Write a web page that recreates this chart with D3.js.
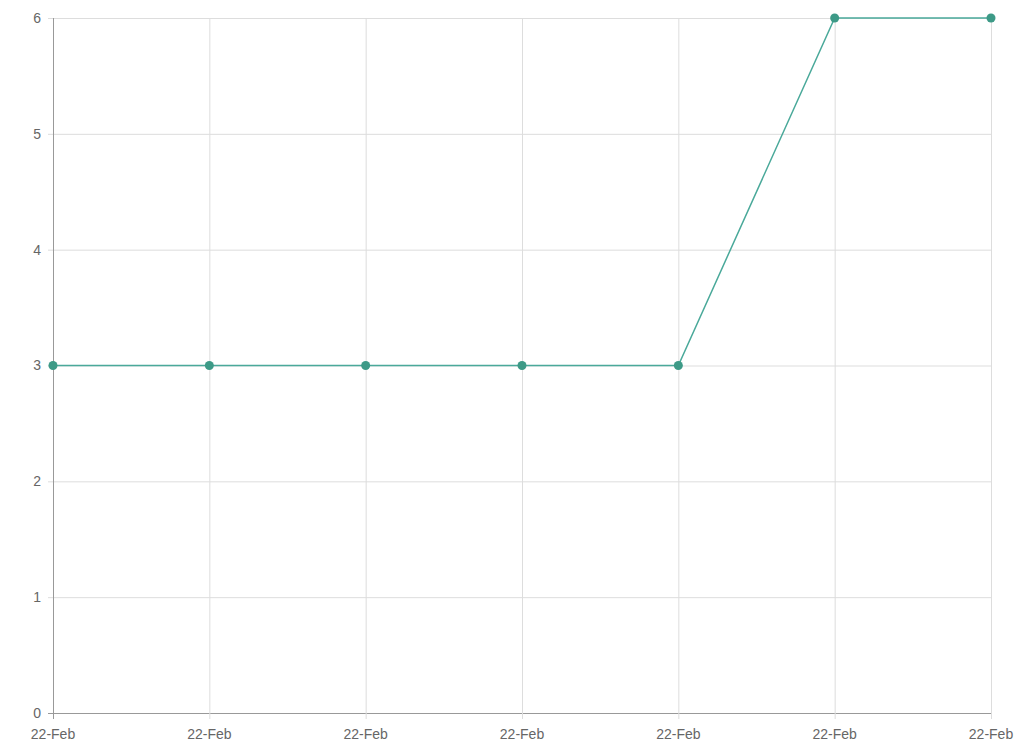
<!DOCTYPE html>
<html><head><meta charset="utf-8">
<script src="https://cdn.jsdelivr.net/npm/d3@7"></script>
<style>body{margin:0;background:#fff}svg{display:block}text{font-family:"Liberation Sans",Arial,sans-serif;font-size:14px;fill:#666}</style>
</head><body><svg id="c" width="1023" height="756"></svg>
<script>
const categories = ["22-Feb","22-Feb","22-Feb","22-Feb","22-Feb","22-Feb","22-Feb"];
const values = [3,3,3,3,3,6,6];
const yTicks = [0,1,2,3,4,5,6];

const svg = d3.select("#c");
const L=53,R=991,T=18,B=713;
const x = d3.scaleLinear().domain([0,categories.length-1]).range([L,R]);
const y = d3.scaleLinear().domain([0,6]).range([B,T]);

const g = svg.append("g");
// horizontal grid
g.selectAll(".hg").data(yTicks).join("line")
 .attr("x1",L-5).attr("x2",R).attr("y1",d=>y(d)+0.5).attr("y2",d=>y(d)+0.5)
 .attr("stroke",d=>d===0?"#999":"#ddd").attr("stroke-width",1);
// vertical grid
g.selectAll(".vg").data(categories.map((c,i)=>i)).join("line")
 .attr("x1",d=>x(d)+0.5).attr("x2",d=>x(d)+0.5).attr("y1",T).attr("y2",B+6)
 .attr("stroke",d=>d===0?"#999":"#ddd").attr("stroke-width",1);
// y labels
g.selectAll(".yl").data(yTicks).join("text")
 .attr("x",L-12).attr("y",d=>y(d)).attr("dy","0.35em").attr("text-anchor","end").text(d=>d);
// x labels
g.selectAll(".xl").data(categories).join("text")
 .attr("x",(d,i)=>x(i)).attr("y",B+26).attr("text-anchor","middle").text(d=>d);
// line
g.append("path").datum(values)
 .attr("d",d3.line().x((d,i)=>x(i)).y(d=>y(d)))
 .attr("fill","none").attr("stroke","#4aa99a").attr("stroke-width",1.5);
g.selectAll(".pt").data(values).join("circle")
 .attr("cx",(d,i)=>x(i)).attr("cy",d=>y(d)).attr("r",4.5).attr("fill","#3d9a87");
</script></body></html>
